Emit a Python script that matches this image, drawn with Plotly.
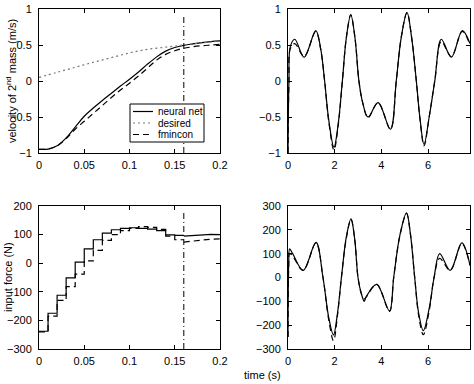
import plotly.graph_objects as go

# ---------------- data ----------------
# top-left: velocity of 2nd mass, t in [0, 0.2]
t_vel = [0, .01, .02, .03, .04, .05, .06, .07, .08, .09, .10,
         .11, .12, .13, .14, .15, .16, .17, .18, .19, .20]
vel_nn = [-0.95, -0.945, -0.9, -0.79, -0.64, -0.49, -0.375, -0.27, -0.17, -0.07, 0.025,
          0.125, 0.235, 0.335, 0.415, 0.465, 0.495, 0.515, 0.533, 0.547, 0.556]
vel_fm = [-0.95, -0.945, -0.9, -0.8, -0.67, -0.56, -0.45, -0.34, -0.23, -0.125, -0.03,
          0.07, 0.18, 0.29, 0.37, 0.42, 0.455, 0.475, 0.49, 0.50, 0.51]
t_des = [0, .02, .04, .06, .08, .10, .12, .14, .16, .18, .20]
vel_des = [0.05, 0.12, 0.19, 0.26, 0.325, 0.39, 0.44, 0.47, 0.50, 0.53, 0.555]

# bottom-left: input force staircase, steps of 0.01 s up to 0.16, then continuous
t_step = [0, .01, .02, .03, .04, .05, .06, .07, .08, .09, .10, .11, .12, .13, .14, .15, .16]
f_nn_step = [-238, -175, -112, -51, 4, 50, 82, 105, 117, 122, 124, 122, 119, 114, 99, 97, 97]
f_fm_step = [-240, -185, -130, -82, -38, 8, 45, 80, 100, 114, 122, 128, 125, 118, 95, 82, 82]
t_tail = [.16, .17, .18, .19, .20]
f_nn_tail = [95, 97, 100, 101, 100]
f_fm_tail = [74, 78, 82, 84, 85]

t_switch = 0.16

# top-right: velocity over long horizon
t_long_v = [0, 0.04, 0.1, 0.29, 0.69, 1.19, 1.4, 1.57, 1.75, 1.97, 2.15, 2.33, 2.5, 2.69,
            2.87, 3.04, 3.2, 3.43, 3.86, 4.39, 4.64, 4.85, 5.1, 5.3, 5.5, 5.65, 5.83,
            6.05, 6.29, 6.57, 7.0, 7.47, 7.8]
vlong_nn = [-1.0, 0.0, 0.48, 0.58, 0.33, 0.70, 0.45, 0.0, -0.55, -0.92, -0.6, 0.0, 0.6, 0.92,
            0.6, 0.0, -0.3, -0.50, -0.30, -0.67, 0.0, 0.6, 0.95, 0.6, 0.0, -0.5, -0.88,
            -0.5, 0.0, 0.58, 0.33, 0.70, 0.52]
vlong_fm = [-1.0, 0.0, 0.45, 0.52, 0.34, 0.69, 0.44, 0.0, -0.57, -0.96, -0.62, 0.0, 0.6, 0.92,
            0.6, 0.0, -0.3, -0.51, -0.30, -0.67, 0.0, 0.6, 0.95, 0.6, 0.0, -0.51, -0.9,
            -0.5, 0.0, 0.55, 0.34, 0.69, 0.50]

# bottom-right: input force over long horizon
t_long_f = [0, 0.03, 0.07, 0.2, 0.65, 1.2, 1.5, 1.75, 1.95, 2.12, 2.29, 2.5, 2.7, 2.86,
            3.0, 3.15, 3.27, 3.35, 3.8, 4.35, 4.53, 4.8, 5.08, 5.25, 5.43, 5.6, 5.8,
            6.05, 6.26, 6.5, 6.95, 7.45, 7.8]
flong_nn = [-250, 60, 120, 100, 30, 147, 0, -170, -241, -150, 0, 170, 246, 160,
            0, -70, -100, -81, -29, -140, 0, 180, 271, 180, 0, -150, -223,
            -130, 0, 100, 30, 145, 52]
flong_fm = [-250, 40, 100, 90, 30, 145, 0, -180, -265, -160, 0, 165, 244, 160,
            0, -70, -90, -82, -29, -142, 0, 178, 268, 180, 0, -160, -240,
            -140, 0, 80, 30, 143, 50]

xticks_short = [0, 0.05, 0.1, 0.15, 0.2]
xticks_long = [0, 2, 4, 6]
yticks_vel = [-1, -0.5, 0, 0.5, 1]
yticks_f_short = [-300, -200, -100, 0, 100, 200]
yticks_f_long = [-300, -200, -100, 0, 100, 200, 300]

legend_names = ["neural net", "desired", "fmincon"]

# ---------------- figure ----------------
W, H = 474, 384
BLACK = "black"
DASH = "6px,4px"
DOT = "2px,3px"
DASHDOT = "6px,3px,1px,3px"
GREY = "#777777"
legend_dashes = ["solid", DOT, DASH]
legend_colors = [BLACK, GREY, BLACK]

fig = go.Figure()

def add(x, y, xa, ya, dash="solid", name=None, shape="linear", color=BLACK, width=1.2):
    fig.add_trace(go.Scatter(
        x=x, y=y, xaxis=xa, yaxis=ya, mode="lines", name=name,
        showlegend=False, line=dict(color=color, width=width, dash=dash, shape=shape),
        hoverinfo="skip"))

# top-left
add(t_vel, vel_nn, "x", "y", "solid", "neural net", "spline")
add(t_des, vel_des, "x", "y", DOT, "desired", "spline", color=GREY)
add(t_vel, vel_fm, "x", "y", DASH, "fmincon", "spline")
add([t_switch, t_switch], [-1, 0.92], "x", "y", DASHDOT, width=1)

# top-right
add(t_long_v, vlong_nn, "x2", "y2", "solid", shape="spline")
add(t_long_v, vlong_fm, "x2", "y2", DASH, shape="spline")

# bottom-left
add(t_step, f_nn_step, "x3", "y3", "solid", shape="hv")
add(t_tail, f_nn_tail, "x3", "y3", "solid")
add(t_step, f_fm_step, "x3", "y3", DASH, shape="hv")
add(t_tail, f_fm_tail, "x3", "y3", DASH)
add([t_switch, t_switch], [-300, 185], "x3", "y3", DASHDOT, width=1)

# bottom-right
add(t_long_f, flong_nn, "x4", "y4", "solid", shape="spline")
add(t_long_f, flong_fm, "x4", "y4", DASH, shape="spline")

xl = [39 / W, 220 / W]
xr = [288 / W, 470 / W]
yt = [1 - 153 / H, 1 - 9 / H]
yb = [1 - 349 / H, 1 - 206 / H]

font = dict(family="Liberation Sans, Arial, sans-serif", size=11, color=BLACK)
lfont = dict(family="Liberation Sans, Arial, sans-serif", size=10, color=BLACK)

def ax(domain, anchor, rng, ticks, ticktext=None, standoff=2):
    d = dict(domain=domain, anchor=anchor, range=rng, tickvals=ticks,
             showline=True, linecolor=BLACK, linewidth=1, mirror="ticks",
             ticks="inside", ticklen=4, tickcolor=BLACK, showgrid=False,
             zeroline=False, tickfont=font, fixedrange=True, automargin=False,
             ticklabelstandoff=standoff)
    if ticktext is not None:
        d["ticktext"] = ticktext
    return d

def minus(vals):
    return [f"{v:g}".replace("-", "\u2212") for v in vals]

# legend drawn as a box with sample lines and labels (paper coords)
lx0, lx1, ly0, ly1 = 130, 204, 104, 142
shapes = [dict(type="rect", xref="paper", yref="paper",
               x0=lx0 / W, x1=lx1 / W, y0=1 - ly1 / H, y1=1 - ly0 / H,
               line=dict(color=BLACK, width=1), fillcolor="white", layer="above")]
annotations = []
row_y = [111.5, 123, 134.5]
for name, dash, col, ry in zip(legend_names, legend_dashes, legend_colors, row_y):
    shapes.append(dict(type="line", xref="paper", yref="paper",
                       x0=133 / W, x1=153 / W, y0=1 - ry / H, y1=1 - ry / H,
                       line=dict(color=col, width=1.2, dash=dash), layer="above"))
    annotations.append(dict(text=name, x=157 / W, y=1 - ry / H, xref="paper", yref="paper",
                            showarrow=False, xanchor="left", yanchor="middle",
                            font=lfont, borderpad=0))

annotations += [
    dict(text="velocity of 2<sup>nd</sup> mass (m/s)", x=11 / W, y=1 - 81 / H,
         xref="paper", yref="paper", showarrow=False, textangle=-90,
         xanchor="center", yanchor="middle", font=font),
    dict(text="input force (N)", x=8 / W, y=1 - 277 / H,
         xref="paper", yref="paper", showarrow=False, textangle=-90,
         xanchor="center", yanchor="middle", font=font),
    dict(text="time (s)", x=262 / W, y=1 - 375 / H,
         xref="paper", yref="paper", showarrow=False,
         xanchor="center", yanchor="middle", font=font),
]

fig.update_layout(
    width=W, height=H, margin=dict(l=0, r=0, t=0, b=0, autoexpand=False),
    paper_bgcolor="white", plot_bgcolor="white", font=font, showlegend=False,
    xaxis=ax(xl, "y", [0, 0.2], xticks_short, [f"{v:g}" for v in xticks_short]),
    yaxis=ax(yt, "x", [-1, 1], yticks_vel, minus(yticks_vel), standoff=4),
    xaxis2=ax(xr, "y2", [0, 7.8], xticks_long),
    yaxis2=ax(yt, "x2", [-1, 1], yticks_vel, minus(yticks_vel), standoff=4),
    xaxis3=ax(xl, "y3", [0, 0.2], xticks_short, [f"{v:g}" for v in xticks_short]),
    yaxis3=ax(yb, "x3", [-300, 200], yticks_f_short, minus(yticks_f_short), standoff=4),
    xaxis4=ax(xr, "y4", [0, 7.8], xticks_long),
    yaxis4=ax(yb, "x4", [-300, 300], yticks_f_long, minus(yticks_f_long), standoff=4),
    shapes=shapes,
    annotations=annotations,
)

fig.write_html("out.html",
               config={"displayModeBar": False, "staticPlot": True},
               post_script="document.body.style.margin='0';document.body.style.overflow='hidden';")
